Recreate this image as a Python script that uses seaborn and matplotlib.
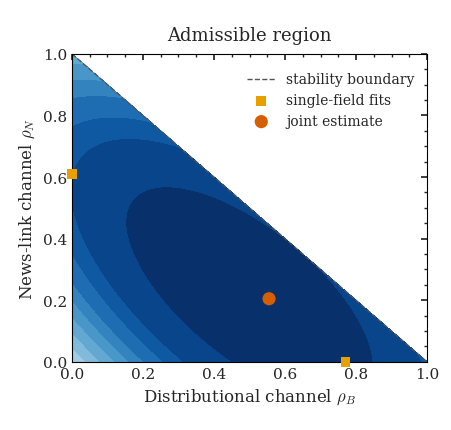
import numpy as np
import matplotlib
matplotlib.use("Agg")
import matplotlib.pyplot as plt
import seaborn as sns

sns.set_theme(style="white")
plt.rcParams["font.family"] = ["DejaVu Serif"]
plt.rcParams["mathtext.fontset"] = "cm"

fit_B = [0.0, 0.77]
fit_N = [0.61, 0.0]
joint_B = [0.555]
joint_N = [0.205]
center = (0.5, 0.22)
levels = [0, 1.0, 1.45, 1.65, 1.85, 2.0, 2.15, 2.3, 2.45, 2.6, 2.75, 2.9, 3.1, 10]

fig = plt.figure(figsize=(4.52, 4.31), dpi=100)
ax = fig.add_axes([0.159, 0.158, 0.786, 0.715])

g = np.linspace(0, 1, 500)
B, N = np.meshgrid(g, g)
u = ((B - center[0]) - (N - center[1])) / np.sqrt(2)
v = ((B - center[0]) + (N - center[1])) / np.sqrt(2)
R = np.sqrt(u**2 / 0.45**2 + v**2 / 0.2**2)
R = np.ma.masked_where(B + N > 1, R)
cmap = plt.get_cmap("Blues_r")
cols = [cmap(x) for x in np.linspace(0.0, 0.95, len(levels) - 1)]
ax.contourf(B, N, R, levels=levels, colors=cols)

line = np.linspace(0, 1, 10)
ax.plot(line, 1 - line, ls="--", color="#555555", lw=1, label="stability boundary")
sns.scatterplot(x=fit_B, y=fit_N, marker="s", color="#e8a000", s=50, edgecolor="none",
                ax=ax, label="single-field fits", clip_on=False, zorder=5)
sns.scatterplot(x=joint_B, y=joint_N, marker="o", color="#d55e00", s=90, edgecolor="none",
                ax=ax, label="joint estimate", zorder=5)

ax.set_xlim(0, 1)
ax.set_ylim(0, 1)
ax.set_xticks(np.arange(0, 1.01, 0.2))
ax.set_yticks(np.arange(0, 1.01, 0.2))
ax.minorticks_on()
ax.tick_params(which="both", direction="in", top=True, right=True, labelsize=11)
ax.tick_params(which="major", length=4)
ax.tick_params(which="minor", length=2)
for s in ax.spines.values():
    s.set_color("black"); s.set_linewidth(0.8)
ax.set_xlabel(r"Distributional channel $\rho_B$", fontsize=12)
ax.set_ylabel(r"News-link channel $\rho_N$", fontsize=12)
ax.set_title("Admissible region", fontsize=13, pad=10)
ax.legend(frameon=False, fontsize=10, loc="upper right", bbox_to_anchor=(1.0, 0.98))
fig.savefig("out.png", dpi=100)
